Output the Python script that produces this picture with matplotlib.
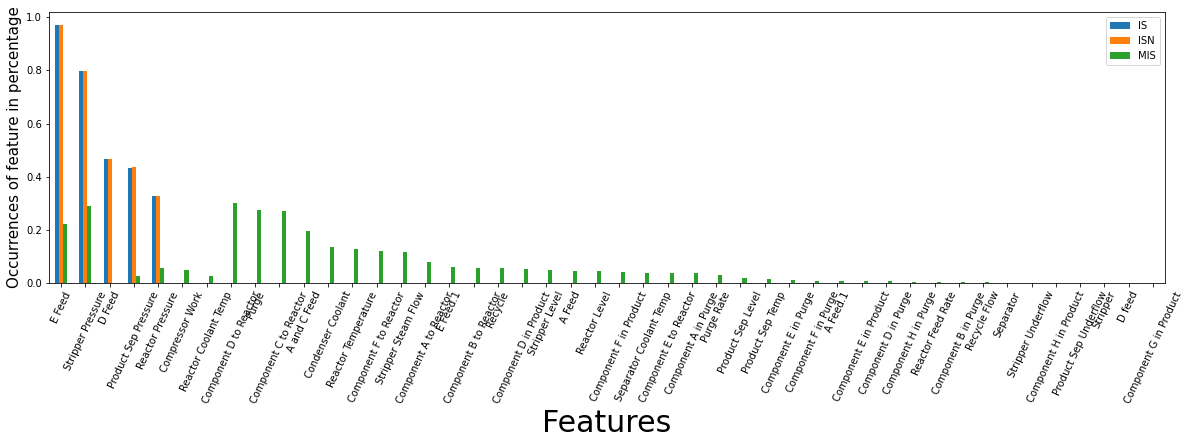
import matplotlib
matplotlib.use('Agg')
import matplotlib.pyplot as plt
import numpy as np

features = ['E Feed', 'Stripper Pressure', 'D Feed', 'Product Sep Pressure', 'Reactor Pressure',
            'Compressor Work', 'Reactor Coolant Temp', 'Component D to Reactor', 'Purge',
            'Component C to Reactor', 'A and C Feed', 'Condenser Coolant', 'Reactor Temperature',
            'Component F to Reactor', 'Stripper Steam Flow', 'Component A to Reactor', 'E Feed.1',
            'Component B to Reactor', 'Recycle', 'Component D in Product', 'Stripper Level', 'A Feed',
            'Reactor Level', 'Component F in Product', 'Separator Coolant Temp', 'Component E to Reactor',
            'Component A in Purge', 'Purge Rate', 'Product Sep Level', 'Product Sep Temp',
            'Component E in Purge', 'Component F in Purge', 'A Feed.1', 'Component E in Product',
            'Component D in Purge', 'Component H in Purge', 'Reactor Feed Rate', 'Component B in Purge',
            'Recycle Flow', 'Separator', 'Stripper Underflow', 'Component H in Product',
            'Product Sep Underflow', 'Stripper', 'D feed', 'Component G in Product']

IS = [0.971, 0.796, 0.467, 0.433, 0.328] + [0.0] * 41
ISN = [0.971, 0.796, 0.467, 0.437, 0.328] + [0.0] * 41
MIS = [0.223, 0.291, 0.0, 0.0275, 0.0576, 0.050, 0.0275, 0.302, 0.276, 0.272,
       0.197, 0.137, 0.129, 0.120, 0.117, 0.079, 0.060, 0.056, 0.056, 0.053,
       0.049, 0.045, 0.045, 0.041, 0.038, 0.038, 0.038, 0.030, 0.019, 0.015,
       0.011, 0.0075, 0.0075, 0.0075, 0.0075, 0.004, 0.004, 0.004, 0.004, 0.0,
       0.0, 0.0, 0.0, 0.0, 0.0, 0.0]

series = {'IS': IS, 'ISN': ISN, 'MIS': MIS}
colors = ['#1f77b4', '#ff7f0e', '#2ca02c']

fig = plt.figure(figsize=(1190 / 72, 446 / 72), dpi=72)
ax = fig.add_axes([49 / 1190, (446 - 283) / 446, 1116 / 1190, 271 / 446])

x = np.arange(len(features))
w = 0.5 / 3
for j, (name, vals) in enumerate(series.items()):
    ax.bar(x + (j - 1) * w, vals, w, color=colors[j], label=name)

ax.set_xlim(-0.5, len(features) - 0.5)
ax.set_xticks(x)
ax.set_xticklabels(features, rotation=65)
ax.legend(loc='upper right')
ax.set_xlabel('Features', fontsize=30)
ax.set_ylabel('Occurrences of feature in percentage', fontsize=15)

fig.savefig('out.png', dpi=72)
